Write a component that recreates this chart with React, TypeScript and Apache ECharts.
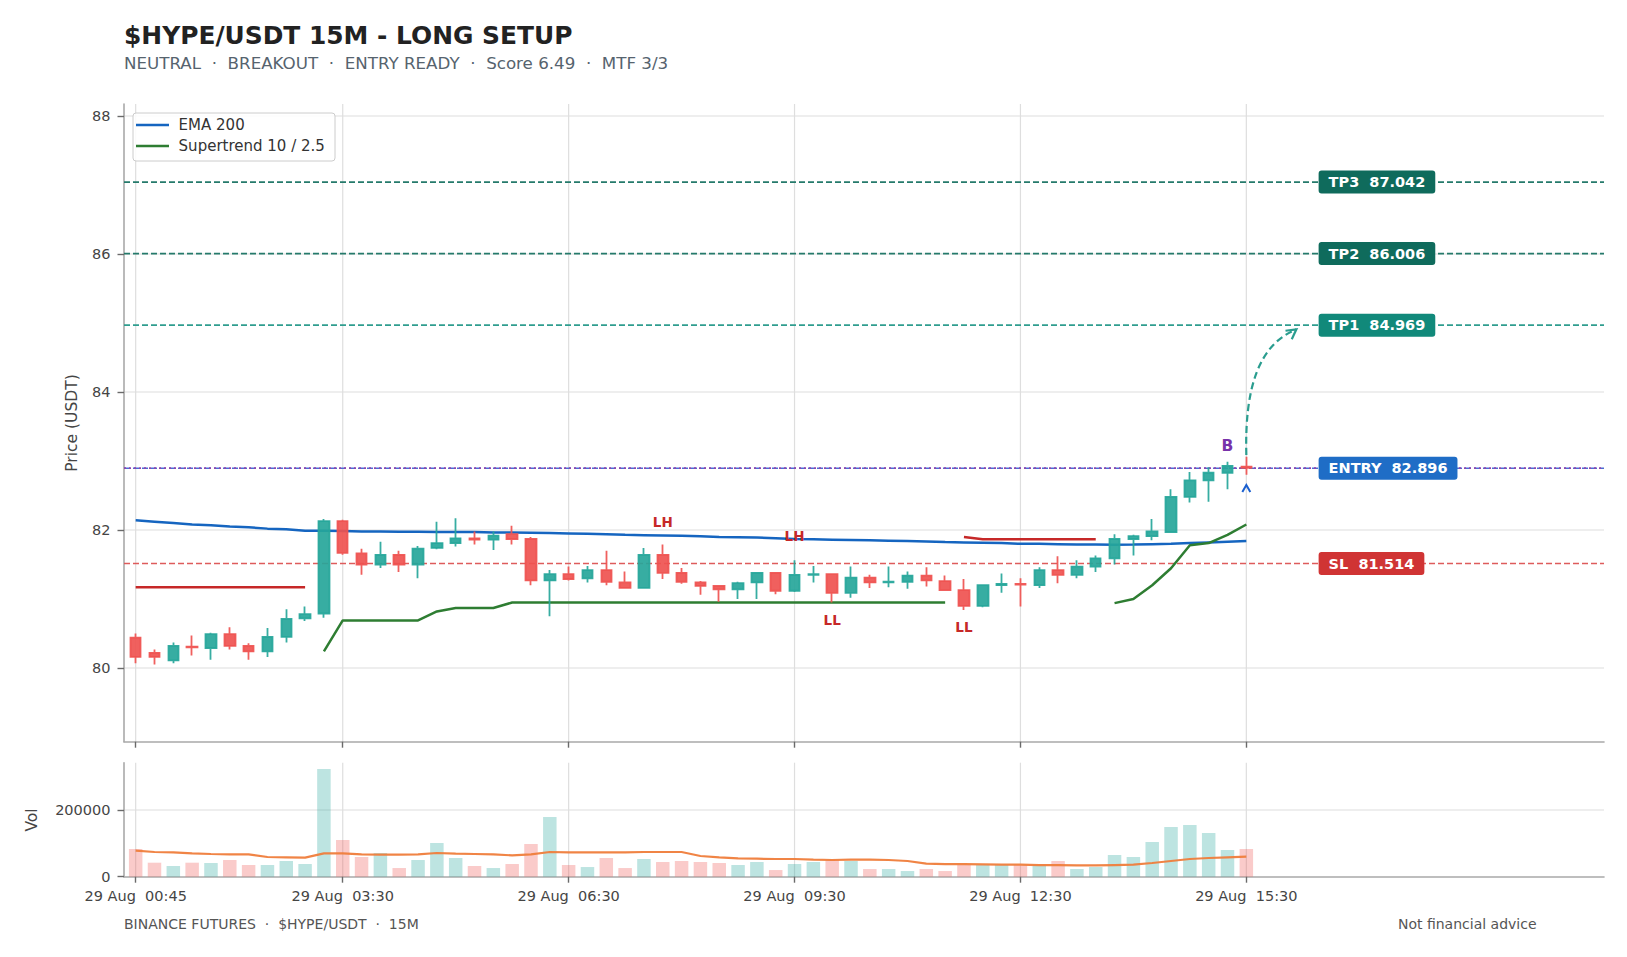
import React, { useEffect, useRef } from "react";
import * as echarts from "echarts";

// ---------- data ----------
const TIME_TICKS = [0, 11, 23, 35, 47, 59];
const TIME_LABELS = ["29 Aug  00:45", "29 Aug  03:30", "29 Aug  06:30", "29 Aug  09:30", "29 Aug  12:30", "29 Aug  15:30"];
const PRICE_TICKS = [80, 82, 84, 86, 88];
const VOL_TICKS = [0, 200000];

const OPEN = [
  80.44, 80.22, 80.11, 80.31, 80.29, 80.49, 80.32, 80.24, 80.45, 80.72,
  80.79, 82.13, 81.66, 81.5, 81.64, 81.5, 81.74, 81.81, 81.88, 81.86,
  81.94, 81.87, 81.27, 81.36, 81.3, 81.42, 81.24, 81.16, 81.64, 81.38,
  81.24, 81.19, 81.14, 81.24, 81.38, 81.12, 81.35, 81.36, 81.09, 81.31,
  81.24, 81.25, 81.34, 81.26, 81.13, 80.9, 81.2, 81.22, 81.2, 81.42,
  81.35, 81.47, 81.59, 81.87, 81.91, 81.97, 82.48, 82.72, 82.83, 82.92,
];
const CLOSE = [
  80.16, 80.16, 80.32, 80.3, 80.49, 80.32, 80.24, 80.45, 80.71, 80.78,
  82.13, 81.67, 81.5, 81.64, 81.5, 81.73, 81.81, 81.88, 81.86, 81.92,
  81.87, 81.27, 81.36, 81.29, 81.42, 81.25, 81.16, 81.64, 81.38, 81.25,
  81.19, 81.14, 81.23, 81.38, 81.12, 81.35, 81.36, 81.09, 81.31, 81.24,
  81.25, 81.34, 81.27, 81.13, 80.9, 81.2, 81.22, 81.21, 81.42, 81.35,
  81.47, 81.59, 81.87, 81.91, 81.98, 82.48, 82.72, 82.83, 82.93, 82.9,
];
const LOW = [
  80.07, 80.05, 80.07, 80.18, 80.12, 80.27, 80.12, 80.16, 80.37, 80.68,
  80.73, 81.64, 81.35, 81.45, 81.39, 81.3, 81.72, 81.76, 81.79, 81.71,
  81.79, 81.2, 80.75, 81.27, 81.24, 81.2, 81.15, 81.15, 81.29, 81.22,
  81.06, 80.96, 81.0, 81.0, 81.07, 81.1, 81.24, 80.95, 81.02, 81.16,
  81.17, 81.15, 81.18, 81.12, 80.84, 80.88, 81.09, 80.89, 81.16, 81.23,
  81.3, 81.39, 81.5, 81.63, 81.85, 81.96, 82.4, 82.41, 82.59, 82.8,
];
const HIGH = [
  80.5, 80.27, 80.37, 80.47, 80.51, 80.59, 80.36, 80.58, 80.85, 80.89,
  82.16, 82.15, 81.73, 81.83, 81.7, 81.77, 82.12, 82.17, 81.98, 81.98,
  82.06, 81.9, 81.42, 81.47, 81.48, 81.7, 81.4, 81.74, 81.79, 81.45,
  81.26, 81.19, 81.25, 81.39, 81.39, 81.56, 81.48, 81.37, 81.47, 81.35,
  81.47, 81.4, 81.46, 81.34, 81.29, 81.21, 81.37, 81.3, 81.46, 81.62,
  81.56, 81.63, 81.94, 81.93, 82.16, 82.59, 82.84, 82.91, 82.99, 83.06,
];
const VOLUME = [
  83000, 42000, 32000, 42000, 41000, 50000, 35000, 35000, 47000, 38000,
  323000, 110000, 59000, 71000, 26000, 50000, 101000, 56000, 32000, 26000,
  38000, 98000, 179000, 35000, 29000, 56000, 26000, 53000, 44000, 47000,
  44000, 41000, 35000, 44000, 20000, 38000, 44000, 50000, 47000, 23000,
  23000, 17000, 23000, 17000, 35000, 35000, 35000, 35000, 35000, 47000,
  23000, 29000, 65000, 59000, 104000, 149000, 155000, 131000, 80000, 83000,
];
const VOLUME_MA = [
  78000, 74000, 73000, 70000, 68000, 67000, 67000, 59000, 58000, 57000,
  70000, 70000, 67000, 66000, 66000, 67000, 71000, 69000, 68000, 67000,
  64000, 67000, 74000, 73000, 73000, 73000, 73000, 74000, 74000, 74000,
  62000, 58000, 55000, 54000, 53000, 53000, 51000, 50000, 51000, 51000,
  50000, 47000, 39000, 38000, 38000, 37000, 36000, 36000, 35000, 35000,
  34000, 34000, 35000, 36000, 41000, 47000, 53000, 56000, 58000, 60000,
];
const EMA200 = [
  82.14, 82.12, 82.1, 82.08, 82.07, 82.05, 82.04, 82.02, 82.01, 81.99,
  81.99, 81.985, 81.98, 81.98, 81.975, 81.975, 81.97, 81.97, 81.97, 81.965,
  81.965, 81.96, 81.955, 81.95, 81.945, 81.94, 81.93, 81.925, 81.92, 81.915,
  81.91, 81.9, 81.895, 81.89, 81.88, 81.87, 81.865, 81.86, 81.855, 81.85,
  81.845, 81.84, 81.835, 81.825, 81.82, 81.815, 81.81, 81.8, 81.8, 81.795,
  81.79, 81.79, 81.787, 81.79, 81.795, 81.8, 81.81, 81.82, 81.83, 81.84,
];
const ST_UP = [
  null, null, null, null, null, null, null, null, null, null,
  80.24, 80.69, 80.69, 80.69, 80.69, 80.69, 80.82, 80.87, 80.87, 80.87,
  80.95, 80.95, 80.95, 80.95, 80.95, 80.95, 80.95, 80.95, 80.95, 80.95,
  80.95, 80.95, 80.95, 80.95, 80.95, 80.95, 80.95, 80.95, 80.95, 80.95,
  80.95, 80.95, 80.95, 80.95, null, null, null, null, null, null,
  null, null, 80.94, 81.0, 81.2, 81.445, 81.78, 81.81, 81.93, 82.08,
];
const ST_DOWN = [
  81.17, 81.17, 81.17, 81.17, 81.17, 81.17, 81.17, 81.17, 81.17, 81.17,
  null, null, null, null, null, null, null, null, null, null,
  null, null, null, null, null, null, null, null, null, null,
  null, null, null, null, null, null, null, null, null, null,
  null, null, null, null, 81.9, 81.865, 81.865, 81.865, 81.865, 81.865,
  81.865, 81.865, null, null, null, null, null, null, null, null,
];
const LEVEL_NAMES = ["TP3", "TP2", "TP1", "ENTRY", "SL"];
const LEVEL_VALUES = [87.042, 86.006, 84.969, 82.896, 81.514];
const SWING_LABELS = ["LH", "LH", "LL", "LL"];
const SWING_INDEX = [28, 35, 37, 44];
const SWING_VALUE = [82.11, 81.91, 80.7, 80.6];
const SIGNAL_LABEL = "B";
const SIGNAL_INDEX = 58;
const SIGNAL_VALUE = 83.22;
const TRIGGER_INDEX = 59;
const TRIGGER_VALUE = 82.6;
// projection arc (data coords: candle index, price)
const ARC_START = [59, 83.087];
const ARC_CP1 = [58.91, 84.029];
const ARC_CP2 = [59.6, 84.681];
const ARC_END = [61.66, 84.909];
const LABEL_X = 62.84;

// ---------- styles ----------
const FONT = "'DejaVu Sans', 'Noto Sans', sans-serif";
const GRID_COLOR = "#dedede";
const AXIS_COLOR = "#a9a9a9";
const TICK_COLOR = "#6a6a6a";
const LABEL_COLOR = "#454545";
const UP = "#26a69a";
const DOWN = "#ef5350";
const LEVEL_STYLE: Record<string, { line: string; box: string; dash: number[] }> = {
  TP3: { line: "#257a6b", box: "#0f6b5c", dash: [6, 3] },
  TP2: { line: "#257a6b", box: "#0f6b5c", dash: [6, 3] },
  TP1: { line: "#2f9d8f", box: "#11897a", dash: [6, 3] },
  ENTRY: { line: "#4a6dd4", box: "#1f6dc6", dash: [6, 3] },
  SL: { line: "#de5c5c", box: "#d03434", dash: [6, 3] },
};

const X_MIN = -0.62;
const X_MAX = 78;

function hLines(xi: number, yi: number, values: number[]) {
  return {
    type: "custom",
    xAxisIndex: xi,
    yAxisIndex: yi,
    silent: true,
    z: 0,
    data: values.map((v) => [0, v]),
    encode: { x: 0, y: 1 },
    renderItem: (params: any, api: any) => {
      const cs = params.coordSys;
      const y = api.coord([0, api.value(1)])[1];
      return {
        type: "line",
        shape: { x1: cs.x, y1: y, x2: cs.x + cs.width, y2: y },
        style: { stroke: GRID_COLOR, lineWidth: 1.2, fill: "none" },
      };
    },
  };
}

function vLines(xi: number, yi: number, idxs: number[], anchor: number) {
  return {
    type: "custom",
    xAxisIndex: xi,
    yAxisIndex: yi,
    silent: true,
    z: 0,
    data: idxs.map((i) => [i, anchor]),
    encode: { x: 0, y: 1 },
    renderItem: (params: any, api: any) => {
      const cs = params.coordSys;
      const x = api.coord([api.value(0), anchor])[0];
      return {
        type: "line",
        shape: { x1: x, y1: cs.y, x2: x, y2: cs.y + cs.height },
        style: { stroke: GRID_COLOR, lineWidth: 1.2, fill: "none" },
      };
    },
  };
}

function buildOption(): any {
  const axisLine = { show: true, onZero: false, lineStyle: { color: AXIS_COLOR, width: 1.6 } };
  const tickStyle = { color: TICK_COLOR, width: 1.4 };
  const labelBase = { color: LABEL_COLOR, fontSize: 14.5, fontFamily: FONT };

  const xAxisCommon = {
    type: "value",
    min: X_MIN,
    max: X_MAX,
    axisLine,
    splitLine: { show: false },
  };

  return {
    animation: false,
    backgroundColor: "#ffffff",
    textStyle: { fontFamily: FONT },
    grid: [
      { left: 124, top: 104, width: 1480, height: 637.7 },
      { left: 124, top: 762.7, width: 1480, height: 114 },
    ],
    xAxis: [
      {
        ...xAxisCommon,
        gridIndex: 0,
        axisTick: { show: true, customValues: TIME_TICKS, length: 6, lineStyle: tickStyle },
        axisLabel: { show: false },
      },
      {
        ...xAxisCommon,
        gridIndex: 1,
        axisTick: { show: true, customValues: TIME_TICKS, length: 6, lineStyle: tickStyle },
        axisLabel: {
          ...labelBase,
          show: true,
          customValues: TIME_TICKS,
          margin: 12,
          formatter: (v: number) => {
            const k = TIME_TICKS.indexOf(Math.round(v));
            return k >= 0 ? TIME_LABELS[k] : "";
          },
        },
      },
    ],
    yAxis: [
      {
        type: "value",
        gridIndex: 0,
        min: 78.932,
        max: 88.174,
        axisLine,
        axisTick: { show: true, customValues: PRICE_TICKS, length: 6.5, lineStyle: tickStyle },
        axisLabel: { ...labelBase, customValues: PRICE_TICKS, margin: 13.5, formatter: (v: number) => String(v) },
        splitLine: { show: false },
      },
      {
        type: "value",
        gridIndex: 1,
        min: 0,
        max: 341800,
        axisLine,
        axisTick: { show: true, customValues: VOL_TICKS, length: 6.5, lineStyle: tickStyle },
        axisLabel: { ...labelBase, customValues: VOL_TICKS, margin: 13.5, formatter: (v: number) => String(v) },
        splitLine: { show: false },
      },
    ],
    series: [
      hLines(0, 0, PRICE_TICKS),
      vLines(0, 0, TIME_TICKS, 80),
      hLines(1, 1, [200000]),
      vLines(1, 1, TIME_TICKS, 0),
      // level lines and tags
      {
        type: "custom",
        xAxisIndex: 0,
        yAxisIndex: 0,
        silent: true,
        z: 1,
        data: LEVEL_VALUES.map((v) => [0, v]),
        encode: { x: 0, y: 1 },
        renderItem: (params: any, api: any) => {
          const cs = params.coordSys;
          const i = params.dataIndex;
          const name = LEVEL_NAMES[i];
          const val = LEVEL_VALUES[i];
          const st = LEVEL_STYLE[name];
          const y = api.coord([0, val])[1];
          const lx = api.coord([LABEL_X, val])[0];
          const children: any[] = [
            {
              type: "line",
              shape: { x1: cs.x, y1: y, x2: cs.x + cs.width, y2: y },
              style: { stroke: st.line, lineWidth: 1.6, lineDash: st.dash, fill: "none" },
            },
          ];
          if (name === "ENTRY") {
            children.push({
              type: "line",
              shape: { x1: cs.x, y1: y, x2: cs.x + cs.width, y2: y },
              style: { stroke: "#8e44ad", lineWidth: 1.7, lineDash: [2, 3], fill: "none" },
            });
          }
          children.push({
            type: "text",
            x: lx,
            y: y,
            z2: 10,
            style: {
              text: `${name}  ${val.toFixed(3)}`,
              fill: "#ffffff",
              font: `bold 14.5px ${FONT}`,
              align: "left",
              verticalAlign: "middle",
              backgroundColor: st.box,
              padding: [4, 10, 4, 10],
              borderRadius: 3,
            },
          });
          return { type: "group", children };
        },
      },
      {
        type: "line",
        name: "EMA 200",
        xAxisIndex: 0,
        yAxisIndex: 0,
        z: 2,
        silent: true,
        showSymbol: false,
        symbol: "none",
        data: EMA200.map((v, i) => [i, v]),
        lineStyle: { color: "#1565c0", width: 2.5 },
      },
      {
        type: "line",
        name: "Supertrend 10 / 2.5",
        xAxisIndex: 0,
        yAxisIndex: 0,
        z: 2,
        silent: true,
        showSymbol: false,
        symbol: "none",
        connectNulls: false,
        data: ST_UP.map((v, i) => [i, v == null ? "-" : v]),
        lineStyle: { color: "#2e7d32", width: 2.5 },
      },
      {
        type: "line",
        name: "Supertrend down",
        xAxisIndex: 0,
        yAxisIndex: 0,
        z: 2,
        silent: true,
        showSymbol: false,
        symbol: "none",
        connectNulls: false,
        data: ST_DOWN.map((v, i) => [i, v == null ? "-" : v]),
        lineStyle: { color: "#c62828", width: 2.5 },
      },
      {
        type: "candlestick",
        xAxisIndex: 0,
        yAxisIndex: 0,
        z: 3,
        silent: true,
        barWidth: 11,
        data: OPEN.map((o, i) => [i, o, CLOSE[i], LOW[i], HIGH[i]]),
        encode: { x: 0, y: [1, 2, 3, 4] },
        itemStyle: {
          color: UP,
          color0: DOWN,
          borderColor: UP,
          borderColor0: DOWN,
          borderWidth: 1.8,
          opacity: 0.92,
        },
      },
      {
        type: "bar",
        xAxisIndex: 1,
        yAxisIndex: 1,
        z: 2,
        silent: true,
        barWidth: 13.5,
        data: VOLUME.map((v, i) => ({
          value: [i, v],
          itemStyle: { color: CLOSE[i] >= OPEN[i] ? "rgba(38,166,154,0.3)" : "rgba(239,83,80,0.3)" },
        })),
      },
      {
        type: "line",
        xAxisIndex: 1,
        yAxisIndex: 1,
        z: 3,
        silent: true,
        showSymbol: false,
        symbol: "none",
        data: VOLUME_MA.map((v, i) => [i, v]),
        lineStyle: { color: "#ef7d3b", width: 2.2, opacity: 0.95 },
      },
      // swing labels
      {
        type: "custom",
        xAxisIndex: 0,
        yAxisIndex: 0,
        silent: true,
        z: 5,
        data: SWING_INDEX.map((x, i) => [x, SWING_VALUE[i]]),
        encode: { x: 0, y: 1 },
        renderItem: (params: any, api: any) => {
          const p = api.coord([api.value(0), api.value(1)]);
          return {
            type: "text",
            x: p[0],
            y: p[1],
            style: {
              text: SWING_LABELS[params.dataIndex],
              fill: "#c62828",
              font: `bold 13.5px ${FONT}`,
              align: "center",
              verticalAlign: "middle",
            },
          };
        },
      },
      // signal "B", trigger caret and projection arrow
      {
        type: "custom",
        xAxisIndex: 0,
        yAxisIndex: 0,
        silent: true,
        z: 5,
        data: [[SIGNAL_INDEX, SIGNAL_VALUE]],
        encode: { x: 0, y: 1 },
        renderItem: (params: any, api: any) => {
          const b = api.coord([SIGNAL_INDEX, SIGNAL_VALUE]);
          const c = api.coord([TRIGGER_INDEX, TRIGGER_VALUE]);
          const p0 = api.coord(ARC_START);
          const p1 = api.coord(ARC_CP1);
          const p2 = api.coord(ARC_CP2);
          const p3 = api.coord(ARC_END);
          const ang = Math.atan2(p3[1] - p2[1], p3[0] - p2[0]) - 0.25;
          const L = 11;
          const a = 0.5;
          const h1 = [p3[0] - L * Math.cos(ang - a), p3[1] - L * Math.sin(ang - a)];
          const h2 = [p3[0] - L * Math.cos(ang + a), p3[1] - L * Math.sin(ang + a)];
          return {
            type: "group",
            children: [
              {
                type: "text",
                x: b[0],
                y: b[1],
                style: {
                  text: SIGNAL_LABEL,
                  fill: "#7832aa",
                  font: `bold 15.5px ${FONT}`,
                  align: "center",
                  verticalAlign: "middle",
                },
              },
              {
                type: "polyline",
                shape: { points: [[c[0] - 4, c[1] + 3.5], [c[0], c[1] - 3.5], [c[0] + 4, c[1] + 3.5]] },
                style: { stroke: "#1a5fcf", lineWidth: 2, fill: "none" },
              },
              {
                type: "bezierCurve",
                shape: {
                  x1: p0[0], y1: p0[1],
                  cpx1: p1[0], cpy1: p1[1],
                  cpx2: p2[0], cpy2: p2[1],
                  x2: p3[0], y2: p3[1],
                },
                style: { stroke: "#2a9d8f", lineWidth: 2.2, lineDash: [7, 4], fill: "none" },
              },
              {
                type: "polyline",
                shape: { points: [h1, [p3[0], p3[1]], h2] },
                style: { stroke: "#2a9d8f", lineWidth: 2.2, fill: "none" },
              },
            ],
          };
        },
      },
    ],
    graphic: [
      {
        type: "text",
        x: 124,
        y: 35,
        z: 100,
        style: {
          text: "$HYPE/USDT 15M - LONG SETUP",
          fill: "#222222",
          font: `bold 24.9px ${FONT}`,
          align: "left",
          verticalAlign: "middle",
        },
      },
      {
        type: "text",
        x: 124,
        y: 63,
        z: 100,
        style: {
          text: "NEUTRAL  ·  BREAKOUT  ·  ENTRY READY  ·  Score 6.49  ·  MTF 3/3",
          fill: "#56636e",
          font: `16.7px ${FONT}`,
          align: "left",
          verticalAlign: "middle",
        },
      },
      {
        type: "text",
        x: 71.7,
        y: 423,
        rotation: Math.PI / 2,
        z: 100,
        style: { text: "Price (USDT)", fill: LABEL_COLOR, font: `15.5px ${FONT}`, align: "center", verticalAlign: "middle" },
      },
      {
        type: "text",
        x: 31.5,
        y: 820,
        rotation: Math.PI / 2,
        z: 100,
        style: { text: "Vol", fill: LABEL_COLOR, font: `15.5px ${FONT}`, align: "center", verticalAlign: "middle" },
      },
      {
        type: "text",
        x: 124,
        y: 923.7,
        z: 100,
        style: {
          text: "BINANCE FUTURES  ·  $HYPE/USDT  ·  15M",
          fill: "#555555",
          font: `14px ${FONT}`,
          align: "left",
          verticalAlign: "middle",
        },
      },
      {
        type: "text",
        x: 1536.5,
        y: 923.7,
        z: 100,
        style: { text: "Not financial advice", fill: "#555555", font: `14px ${FONT}`, align: "right", verticalAlign: "middle" },
      },
      // legend box
      {
        type: "rect",
        z: 100,
        shape: { x: 133, y: 113, width: 202, height: 48, r: 3 },
        style: { fill: "rgba(255,255,255,0.85)", stroke: "#cccccc", lineWidth: 1 },
      },
      {
        type: "line",
        z: 101,
        shape: { x1: 136, y1: 125, x2: 169, y2: 125 },
        style: { stroke: "#1565c0", lineWidth: 2.5 },
      },
      {
        type: "text",
        x: 178.6,
        y: 125,
        z: 101,
        style: { text: "EMA 200", fill: "#333333", font: `15px ${FONT}`, align: "left", verticalAlign: "middle" },
      },
      {
        type: "line",
        z: 101,
        shape: { x1: 136, y1: 146, x2: 169, y2: 146 },
        style: { stroke: "#2e7d32", lineWidth: 2.5 },
      },
      {
        type: "text",
        x: 178.6,
        y: 146,
        z: 101,
        style: { text: "Supertrend 10 / 2.5", fill: "#333333", font: `15px ${FONT}`, align: "left", verticalAlign: "middle" },
      },
    ],
  };
}

export default function App() {
  const ref = useRef<HTMLDivElement>(null);
  useEffect(() => {
    if (!ref.current) return;
    const chart = echarts.init(ref.current, undefined, { renderer: "svg" });
    chart.setOption(buildOption());
    return () => {
      chart.dispose();
    };
  }, []);
  return (
    <div
      ref={ref}
      style={{ position: "absolute", left: 0, top: 0, width: 1627, height: 957, background: "#ffffff" }}
    />
  );
}
